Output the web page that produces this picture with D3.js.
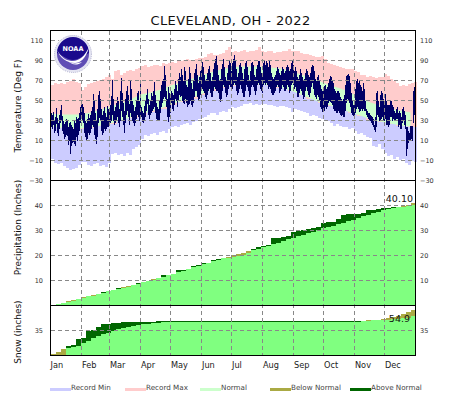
<!doctype html>
<html lang="en">
    <head>
        <meta charset="utf-8">
        <title>Cleveland 2022</title>
        <style>
            body { margin: 0; background: #fff; }
            text { font-family: "DejaVu Sans", sans-serif; }
        </style>
    </head>
    <body>
        <svg id="chart"></svg>
        <script src="https://d3js.org/d3.v7.min.js"></script>
        <script>
            //Month names and the day of the year each one starts on
            var months = ["Jan","Feb","Mar","Apr","May","Jun","Jul","Aug","Sep","Oct","Nov","Dec"];
            var monthStart = [0,31,59,90,120,151,181,212,243,273,304,334];
            var tempTicks = [110,90,70,50,30,10,-10,-30];
            var precipTicks = [40,30,20,10];
            var snowTicks = [35];

            //Observed daily high and low, one value per day
            var obsHigh = [
                38,36,39,30,34,43,33,28,36,41,46,35,30,27,29,32,31,24,28,29,26,24,22,30,28,34,32,33,38,44,48,
                47,44,38,30,28,32,37,33,36,40,44,57,50,38,30,42,56,60,52,42,36,40,44,38,34,45,42,40,
                46,55,71,52,40,44,48,54,50,42,60,73,58,48,40,52,60,65,56,47,70,62,50,46,40,44,50,58,60,50,70,
                44,40,38,45,50,56,62,52,46,50,58,55,60,69,56,48,44,42,50,60,66,70,72,85,76,60,52,64,58,55,
                60,58,56,62,70,66,60,72,78,74,82,76,70,84,80,66,64,72,84,78,68,62,70,78,82,87,76,68,74,80,84,
                89,84,76,70,72,78,82,85,78,70,74,82,88,92,95,86,76,70,72,82,87,92,84,74,70,78,86,90,88,80,
                88,92,96,90,82,74,78,86,88,84,78,72,82,88,90,84,76,70,80,88,89,86,76,74,82,86,90,90,84,78,76,
                88,91,86,90,88,84,90,86,78,74,72,74,76,80,84,82,78,76,80,84,82,78,80,84,86,84,80,82,88,90,86,
                80,84,80,74,72,76,82,78,74,70,72,78,82,80,76,74,78,84,86,85,80,72,70,74,76,70,66,62,60,64,
                65,66,62,64,68,72,75,74,70,68,62,60,58,60,60,58,54,52,50,52,56,66,75,76,77,75,68,58,50,46,50,
                62,70,72,68,70,66,64,60,68,62,50,42,40,38,38,36,35,34,32,26,34,58,60,50,44,56,60,58,52,50,
                57,50,46,46,46,50,50,46,44,40,38,42,44,38,40,38,34,42,44,40,36,24,24,20,18,25,25,25,60,64,57
            ];
            var obsLow = [
                24,22,26,18,20,27,18,15,22,28,30,20,17,12,14,16,15,6,10,-3,5,8,9,7,5,14,10,16,20,28,32,
                30,28,18,14,10,12,18,16,18,22,26,24,16,12,7,14,28,33,30,20,16,18,22,20,22,24,24,26,
                28,30,36,30,26,28,30,34,28,24,30,40,34,26,18,28,36,40,34,26,38,34,30,28,25,28,32,36,34,30,34,
                34,29,28,30,34,40,47,36,32,36,38,40,42,44,38,32,30,30,30,38,44,48,52,54,52,44,34,29,34,38,
                48,42,40,46,52,50,44,50,56,54,55,50,48,47,52,48,44,46,47,50,46,44,48,54,60,60,54,50,52,56,60,
                62,60,58,54,52,56,60,62,58,54,54,60,64,62,60,60,58,52,49,52,60,66,64,58,54,56,62,66,64,60,
                62,66,68,66,60,56,58,62,66,62,58,54,54,60,66,64,60,54,56,64,66,64,60,56,60,66,68,66,62,60,58,
                66,68,66,68,66,62,64,62,58,56,56,58,60,64,66,64,58,60,62,66,64,60,60,62,66,64,58,60,66,68,66,
                62,64,60,54,54,58,62,60,56,52,54,60,64,60,56,54,58,64,68,62,56,54,52,56,54,50,44,42,39,42,
                40,44,42,44,48,50,49,48,46,42,40,40,38,38,40,38,36,35,36,34,34,40,48,52,50,48,44,38,36,35,35,
                38,42,44,42,39,40,42,40,42,40,40,36,34,32,30,30,28,26,24,21,19,24,36,34,30,30,32,34,30,30,
                32,26,26,24,26,34,34,30,32,30,30,32,32,24,26,22,22,28,30,26,22,-5,2,8,10,10,12,10,28,36,38
            ];

            //Record highs and lows, one value per 3 days
            var recordMax = [
                66,68,67,68,67,69,70,72,69,68,61,64,67,68,69,70,71,72,74,76,
                72,80,81,76,78,80,81,80,82,83,85,86,84,85,86,86,85,88,87,88,
                89,88,90,90,91,92,91,90,92,93,93,94,97,98,96,96,97,98,101,104,
                99,100,99,100,101,99,100,100,101,104,100,99,100,100,98,99,99,100,100,102,
                100,100,100,98,97,97,96,95,94,94,95,92,88,87,86,85,84,83,82,82,
                82,80,79,76,76,74,75,74,73,74,74,77,75,72,70,68,65,66,65,67,68,69
            ];
            var recordMin = [
                -8,-12,-13,-12,-15,-17,-19,-18,-17,-14,-11,-11,-14,-15,-13,-12,-15,-14,-16,-12,
                -3,-2,-4,-3,-5,-2,-4,2,4,6,12,16,15,17,18,16,19,20,18,22,
                24,25,24,26,27,28,26,29,30,32,33,34,36,38,38,36,39,40,39,42,
                44,43,44,45,47,47,48,46,47,46,47,47,46,46,45,44,45,45,44,43,
                39,42,41,40,39,38,35,36,35,33,32,30,30,28,25,27,25,24,24,22,
                23,20,17,18,16,14,13,5,4,7,2,-2,-5,-4,-8,-6,-9,-8,-12,-14,-10,-11
            ];

            //Normal high and low, one value per 10 days
            var normalHigh = [37,36,36,36,38,41,44,47,51,56,58,61,65,68,71,75,78,81,83,84,84,84,83,82,80,76,73,69,65,62,58,52,48,45,42,40,38];
            var normalLow = [24,23,22,22,23,25,27,30,33,36,39,42,46,49,52,56,60,63,65,66,66,66,65,63,60,56,52,48,45,42,38,35,31,29,27,25,24];

            //Accumulated precipitation and snow, one value per 5 days
            var precipNormal = [
                0.1,0.6,1.1,1.7,2.2,2.8,3.3,3.8,4.2,4.7,5.2,5.8,6.3,6.8,7.3,7.8,8.3,8.8,9.4,9.9,
                10.5,11,11.6,12.1,12.7,13.3,14,14.6,15.3,15.9,16.6,17.1,17.7,18.3,18.9,19.5,20.2,20.7,21.2,21.7,
                22.3,22.8,23.3,24,24.6,25.2,25.9,26.5,27.1,27.7,28.3,29,29.6,30.2,30.9,31.4,32,32.6,33.2,33.8,
                34.4,35,35.7,36.3,36.9,37.5,38.1,38.5,39,39.5,39.9,40.3,40.9
            ];
            var precipObs = [
                0.2,0.6,1,1.4,2,2.5,3.1,3.8,4,4.7,5.4,5.9,6.4,7.1,7.2,7.3,8.4,8.9,9.5,9.8,
                10.4,11.2,12.1,12.3,12.8,14.2,14.4,14.7,15.8,16.4,16.9,17,18.3,18.6,18.9,19,19.6,20,20.4,21.2,
                22.7,23.5,24,24.3,26.9,27.2,27.4,28,29.6,29.8,30.2,30.6,31.1,31.4,33.2,33.3,33.6,34.8,36.4,36.5,
                36.5,36.6,36.9,38.1,38.3,38.7,39.2,39.2,39.3,39.4,39.4,39.7,40.1
            ];
            var snowNormal = [
                1.5,4.5,8.5,10,12,14,18,21,25,28,30,32,34.5,36.5,38.5,40,41.5,43,44,44.8,45.6,46.2,
                46.7,46.7,46.7,46.7,46.7,46.7,46.7,46.7,46.7,46.7,46.7,46.7,46.7,46.7,46.7,46.7,46.7,46.7,46.7,46.7,
                46.7,46.7,46.7,46.7,46.7,46.7,46.7,46.7,46.7,46.7,46.7,46.7,46.7,46.7,46.7,46.7,46.7,46.7,46.7,46.7,
                49,49.1,49.2,49.8,50.8,52,53.5,55.5,58,60.5,64
            ];
            var snowObs = [
                0.2,0.3,0.5,13,15,23,24,35,36,40,44,44.5,45,45.5,46.5,46.7,46.7,46.8,47.6,47.6,47.6,48,
                49,49,49,49,49,49,49,49,49,49,49,49,49,49,49,49,49,49,49,49,
                49,49,49,49,49,49,49,49,49,49,49,49,49,49,49,49,49,49,49,49,
                48.2,48.2,49.5,49.3,49.5,50,50.5,51,52,53,54.9
            ];

            var legendNames = ["Record Min","Record Max","Normal","Below Normal","Above Normal"];
            var legendColors = ["#ccccff","#ffcccc","#ccffcc","#aaaa44","#006600"];
            var legendX = [50,125,200,270,350];

            var svgWidth = 465;
            var svgHeight = 395;
            var left = 50.5;
            var right = 415.5;

            var svg = d3.select("#chart")
                .attr("width", svgWidth)
                .attr("height", svgHeight)
                .style("display", "block");

            //Scales, all three panels share the x scale
            var x = d3.scaleLinear().domain([0,365]).range([left,right]);
            var yTemp = d3.scaleLinear().domain([120,-30]).range([30.5,180.5]);
            var yPrecip = d3.scaleLinear().domain([50,0]).range([180.5,305.5]);
            var ySnow = d3.scaleLinear().domain([70,0]).range([305.5,355.5]);

            //Bars of a fixed number of days, from low to high
            function drawBars(parent, count, step, scale, low, high, color, width){
                parent.append("g")
                    .attr("shape-rendering", "crispEdges")
                    .selectAll("rect")
                    .data(d3.range(count))
                    .enter()
                    .append("rect")
                    .attr("x", function(i){ return x(i*step); })
                    .attr("width", width || step)
                    .attr("y", function(i){ return scale(Math.max(low(i),high(i))); })
                    .attr("height", function(i){ return Math.abs(scale(low(i))-scale(high(i))); })
                    .style("fill", typeof color == "function" ? color : function(){ return color; });
            }

            //Temperature panel
            drawBars(svg, recordMax.length, 3, yTemp, function(i){ return recordMin[i]; }, function(i){ return recordMax[i]; }, "#ffcccc");
            var normalDays = d3.range(normalHigh.length);
            //Everything under the normal low goes lavender
            drawBars(svg, recordMin.length, 3, yTemp, function(i){ return recordMin[i]; }, function(i){ return normalLow[Math.min(Math.round(i*3/10),normalLow.length-1)]; }, "#ccccff");
            svg.append("path")
                .datum(normalDays)
                .attr("d", d3.area()
                    .x(function(i){ return Math.min(x(i*10),right); })
                    .y0(function(i){ return yTemp(normalLow[i]); })
                    .y1(function(i){ return yTemp(normalHigh[i]); }))
                .style("fill", "#ccffcc");
            drawBars(svg, obsHigh.length, 1, yTemp, function(i){ return obsLow[i]; }, function(i){ return obsHigh[i]; }, "#000066", 1);

            //Precipitation panel
            var above = function(a,b){ return function(i){ return a[i] >= b[i] ? "#006600" : "#aaaa44"; }; };
            drawBars(svg, precipNormal.length, 5, yPrecip, function(){ return 0; }, function(i){ return precipNormal[i]; }, "#80ff80");
            drawBars(svg, precipObs.length, 5, yPrecip, function(i){ return precipNormal[i]; }, function(i){ return precipObs[i]; }, above(precipObs,precipNormal));

            //Snow panel
            drawBars(svg, snowNormal.length, 5, ySnow, function(){ return 0; }, function(i){ return snowNormal[i]; }, "#80ff80");
            drawBars(svg, snowObs.length, 5, ySnow, function(i){ return snowNormal[i]; }, function(i){ return snowObs[i]; }, above(snowObs,snowNormal));

            //Grid goes over the data
            var grid = svg.append("g")
                .style("stroke", "#888")
                .style("stroke-width", 1)
                .style("stroke-dasharray", "4,3")
                .attr("shape-rendering", "crispEdges");
            monthStart.slice(1).forEach(function(d){
                grid.append("line").attr("x1", x(d)).attr("x2", x(d)).attr("y1", 30.5).attr("y2", 355.5);
            });
            function hGrid(ticks, scale){
                ticks.forEach(function(t){
                    if(t == -30){ return; }
                    grid.append("line").attr("x1", left).attr("x2", right).attr("y1", scale(t)).attr("y2", scale(t));
                });
            }
            hGrid(tempTicks, yTemp);
            hGrid(precipTicks, yPrecip);
            hGrid(snowTicks, ySnow);

            //Logo
            var logo = svg.append("g").attr("transform", "translate(73,54)");
            logo.append("circle").attr("r", 19.5).style("fill", "#fff");
            logo.append("circle").attr("r", 18.5).style("fill", "#e4e4f2").style("stroke", "#b0b0d0").style("stroke-width", 1).style("stroke-dasharray", "1,1");
            logo.append("circle").attr("r", 16).style("fill", "#5f4db5");
            logo.append("path").attr("d", "M-16,-1A16,16 0 0 1 16,-1C11,1 6,6 0,6C-6,6 -11,1 -16,-1Z").style("fill", "#1a0a8c");
            logo.append("path").attr("d", "M-16,-4C-11,5 -5,7 0,7C6,7 12,2 16,-7C13,5 7,9 2,9C-6,9 -13,4 -16,-4Z").style("fill", "#fff");
            logo.append("path").attr("d", "M-5,7C-1,10 3,10 9,8C4,12 -1,11 -5,7Z").style("fill", "#fff");
            logo.append("text").attr("y", -3).attr("text-anchor", "middle").style("font-size", "6.5px").style("font-weight", "bold").style("fill", "#fff").text("NOAA");

            //Frame and panel dividers
            var frame = svg.append("g").attr("shape-rendering", "crispEdges").style("stroke", "#000").style("stroke-width", 1.5).style("fill", "none");
            frame.append("rect").attr("x", left).attr("y", 30.5).attr("width", right-left).attr("height", 325);
            frame.append("line").attr("x1", left).attr("x2", right).attr("y1", 180.5).attr("y2", 180.5);
            frame.append("line").attr("x1", left).attr("x2", right).attr("y1", 305.5).attr("y2", 305.5);

            //Tick labels on both sides
            function addAxis(scale, ticks){
                [[d3.axisLeft,43],[d3.axisRight,420]].forEach(function(a){
                    var g = svg.append("g")
                        .attr("transform", "translate("+a[1]+",0)")
                        .call(a[0](scale).tickValues(ticks).tickSize(0).tickPadding(0));
                    g.select(".domain").remove();
                    g.selectAll("text").style("font-size", "6.5px").style("font-family", "'DejaVu Sans'").style("fill", "#333");
                });
            }
            addAxis(yTemp, tempTicks);
            addAxis(yPrecip, precipTicks);
            addAxis(ySnow, snowTicks);

            //Month labels
            svg.selectAll(".month")
                .data(months)
                .enter()
                .append("text")
                .attr("class", "month")
                .attr("x", function(d,i){ return i == 0 ? left : x(monthStart[i])+0.5; })
                .attr("y", 367.5)
                .style("font-size", "8.2px")
                .style("fill", "#222")
                .text(function(d){ return d; });

            //Titles
            svg.append("text").attr("x", 230.5).attr("y", 25).attr("text-anchor", "middle")
                .style("font-size", "13px").style("letter-spacing", "0.4px").style("fill", "#111")
                .text("CLEVELAND, OH - 2022");
            var titles = [["Temperature (Deg F)",106],["Precipitation (Inches)",227.5],["Snow (inches)",332]];
            titles.forEach(function(t){
                svg.append("text")
                    .attr("transform", "translate(21,"+t[1]+") rotate(-90)")
                    .attr("text-anchor", "middle")
                    .style("font-size", "9px")
                    .style("fill", "#111")
                    .text(t[0]);
            });

            //Totals at the end of the year
            svg.append("text").attr("x", 413).attr("y", 202).attr("text-anchor", "end").style("font-size", "9.5px").style("fill", "#111").text("40.10");
            svg.append("text").attr("x", 410).attr("y", 322).attr("text-anchor", "end").style("font-size", "9.5px").style("fill", "#111").text("54.9");

            //Legend
            legendNames.forEach(function(name,i){
                svg.append("rect").attr("x", legendX[i]).attr("y", 388).attr("width", 21).attr("height", 3).style("fill", legendColors[i]);
                svg.append("text").attr("x", legendX[i]+21).attr("y", 390).style("font-size", "7.2px").style("fill", "#444").text(name);
            });
        </script>
    </body>
</html>
